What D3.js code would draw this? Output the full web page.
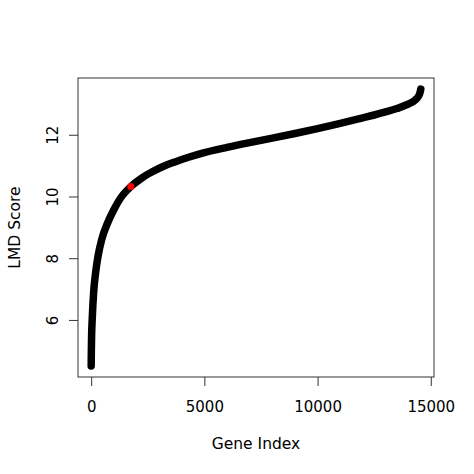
<!DOCTYPE html>
<html>
<head>
<meta charset="utf-8">
<script src="https://cdn.jsdelivr.net/npm/d3@7"></script>
<style>
    body { margin: 0; background: #fff; }
    text { font-family: "DejaVu Sans", sans-serif; fill: #000; }
</style>
</head>
<body>
<div id="chart"></div>
<script>
// Sorted LMD scores at sample gene indices
const geneIndex = [1, 8, 20, 45, 110, 200, 300, 470, 730, 1000, 1300, 1750, 2200, 2700, 3200, 3700, 4300,
    5000, 6000, 7000, 8000, 9000, 10000, 11000, 12000, 12500, 13000, 13500, 14000, 14300, 14450, 14520, 14560];
const lmdScore = [4.51, 5.0, 5.5, 6.0, 6.9, 7.55, 8.05, 8.62, 9.15, 9.57, 9.95, 10.32, 10.58, 10.8, 10.98, 11.12, 11.27,
    11.42, 11.59, 11.745, 11.89, 12.04, 12.2, 12.37, 12.55, 12.64, 12.74, 12.85, 12.99, 13.12, 13.24, 13.35, 13.48];
const highlightIndex = [1750];
const highlightScore = [10.32];
const xTicks = [0, 5000, 10000, 15000];
const yTicks = [6, 8, 10, 12];

const points = geneIndex.map((g, i) => ({ x: g, y: lmdScore[i] }));

// Plot region, like R's default margins
const W = 474, H = 474;
const margin = { top: 78, right: 40, bottom: 97, left: 78 };
const width = W - margin.left - margin.right;
const height = H - margin.top - margin.bottom;

const svg = d3.select("#chart").append("svg")
    .attr("width", W)
    .attr("height", H);

const g = svg.append("g")
    .attr("transform", `translate(${margin.left},${margin.top})`);

// R pads the data range by 4% on each side
function padded(ext) {
    let d = (ext[1] - ext[0]) * 0.04;
    return [ext[0] - d, ext[1] + d];
}

const x = d3.scaleLinear().domain(padded(d3.extent(geneIndex))).range([0, width]);
const y = d3.scaleLinear().domain(padded(d3.extent(lmdScore))).range([height, 0]);

// Axes
const xAxis = d3.axisBottom(x).tickValues(xTicks).tickFormat(d3.format("d"))
    .tickSize(9).tickPadding(15).tickSizeOuter(0);
const yAxis = d3.axisLeft(y).tickValues(yTicks).tickFormat(d3.format("d"))
    .tickSize(9).tickSizeOuter(0);

const gx = g.append("g")
    .attr("transform", `translate(0,${height})`)
    .call(xAxis);
gx.select(".domain").remove();
gx.selectAll("line").attr("stroke", "#333");
gx.selectAll("text").style("font-size", "15px").style("font-family", "DejaVu Sans");

const gy = g.append("g").call(yAxis);
gy.select(".domain").remove();
gy.selectAll("line").attr("stroke", "#333");
gy.selectAll("text")
    .style("font-size", "15px")
    .style("font-family", "DejaVu Sans")
    .attr("x", null)
    .attr("dy", null)
    .attr("text-anchor", "middle")
    .attr("transform", "translate(-20.5,0) rotate(-90)");

// Frame
g.append("rect")
    .attr("width", width)
    .attr("height", height)
    .attr("fill", "none")
    .attr("stroke", "#333")
    .attr("stroke-width", 1);

// Dense run of points drawn as a thick rounded line
const line = d3.line()
    .x(d => x(d.x))
    .y(d => y(d.y))
    .curve(d3.curveMonotoneX);

g.append("path")
    .datum(points)
    .attr("fill", "none")
    .attr("stroke", "#000")
    .attr("stroke-width", 7.5)
    .attr("stroke-linecap", "round")
    .attr("stroke-linejoin", "round")
    .attr("d", line);

// Highlighted gene
g.selectAll(".hl")
    .data(highlightIndex)
    .enter().append("circle")
    .attr("class", "hl")
    .attr("cx", d => x(d))
    .attr("cy", (d, i) => y(highlightScore[i]))
    .attr("r", 3.5)
    .attr("fill", "#ff0000");

// Axis titles
svg.append("text")
    .attr("x", margin.left + width / 2)
    .attr("y", 449)
    .attr("text-anchor", "middle")
    .style("font-size", "15.5px")
    .text("Gene Index");

svg.append("text")
    .attr("transform", `translate(20,${margin.top + height / 2}) rotate(-90)`)
    .attr("text-anchor", "middle")
    .style("font-size", "15.5px")
    .text("LMD Score");
</script>
</body>
</html>
